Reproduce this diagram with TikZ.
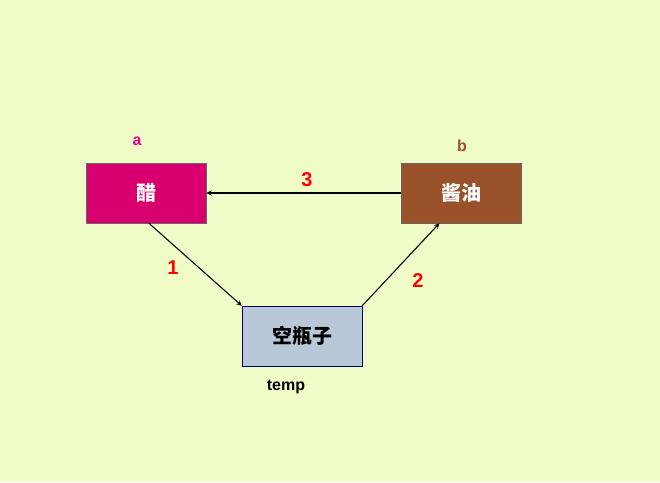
\documentclass[tikz,border=0pt]{standalone}
\usepackage{fontspec}
\setmainfont{Liberation Sans}
\newfontfamily\cjk{Noto Sans CJK SC}
\usetikzlibrary{positioning}
\definecolor{bgc}{HTML}{F0FCC8}
\definecolor{cuc}{HTML}{D8006E}
\definecolor{jyc}{HTML}{9A522B}
\definecolor{kpc}{HTML}{B8C8D8}
\tikzset{
  box/.style={draw=black!60, minimum width=90pt, minimum height=45pt, inner sep=0pt, font=\cjk\bfseries\fontsize{15}{18}\selectfont},
  num/.style={text=red, font=\bfseries\fontsize{15}{18}\selectfont},
  tag/.style={font=\bfseries\fontsize{12}{14}\selectfont},
  link/.style={->, >=stealth, thick}
}
\begin{document}
\begin{tikzpicture}[x=0.75pt, y=-0.75pt]
\fill[bgc] (0,0) rectangle (660,482);
\useasboundingbox (0,0) rectangle (660,482);
\node[box, fill=cuc, text=white] (cu) at (146,193) {醋};
\node[box, fill=jyc, text=white] (jy) at (461,193) {酱油};
\node[box, fill=kpc, draw=blue!40!black, text=black] (kp) at (302,336) {空瓶子};
\node[tag, text=magenta] (la) at (137,141) {a};
\node[tag, text=jyc] (lb) at (462,146) {b};
\node[tag] (lt) at (286,387) {temp};
\draw[link] ([xshift=-43pt]cu.south east) -- (kp.north west);
\draw[link] (kp.north east) -- ([xshift=29pt]jy.south west);
\draw[link] (jy.west) -- (cu.east);
\node[num] (n1) at (173,268) {1};
\node[num] (n2) at (418,281) {2};
\node[num] (n3) at (307,180) {3};
\end{tikzpicture}
\end{document}
